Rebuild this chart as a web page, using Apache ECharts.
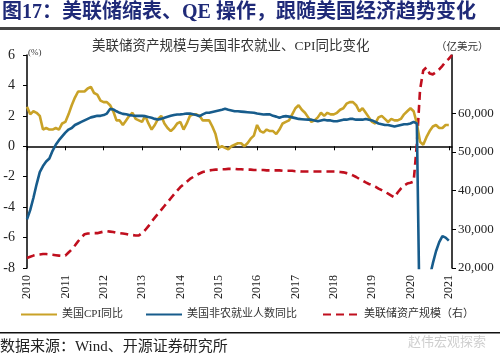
<!DOCTYPE html>
<html>
<head>
<meta charset="utf-8">
<script src="https://cdn.jsdelivr.net/npm/echarts@6/dist/echarts.min.js"></script>
<style>html,body{margin:0;padding:0;background:#fff}#c{width:500px;height:359px}</style>
</head>
<body>
<div id="c"></div>
<script>
// months 2010-01 .. 2021-02
var months = [];
for (var y = 2010; y <= 2021; y++) {
  for (var m = 1; m <= 12; m++) {
    if (y === 2021 && m > 2) break;
    months.push(y + '-' + (m < 10 ? '0' + m : m));
  }
}
var yearLabels = ['2010','2011','2012','2013','2014','2015','2016','2017','2018','2019','2020','2021'];
var leftTicks = [-8, -6, -4, -2, 0, 2, 4, 6];
var rightTicks = [20000, 30000, 40000, 50000, 60000, 70000];

// 美国CPI同比 (%)
var cpi = [
  2.6, 2.1, 2.3, 2.2, 2.0, 1.1, 1.2, 1.1, 1.1, 1.2, 1.1, 1.5,
  1.6, 2.1, 2.7, 3.2, 3.6, 3.6, 3.6, 3.8, 3.9, 3.5, 3.4, 3.0,
  2.9, 2.9, 2.7, 2.3, 1.7, 1.7, 1.4, 1.7, 2.0, 2.2, 1.8, 1.7,
  1.6, 2.0, 1.5, 1.1, 1.4, 1.8, 2.0, 1.5, 1.2, 1.0, 1.2, 1.5,
  1.6, 1.1, 1.5, 2.0, 2.1, 2.1, 2.0, 1.7, 1.7, 1.7, 1.3, 0.8,
  -0.1, 0.0, -0.1, -0.2, 0.0, 0.1, 0.2, 0.2, 0.0, 0.2, 0.5, 0.7,
  1.4, 1.0, 0.9, 1.1, 1.0, 1.0, 0.8, 1.1, 1.5, 1.6, 1.7, 2.1,
  2.5, 2.7, 2.4, 2.2, 1.9, 1.6, 1.7, 1.9, 2.2, 2.0, 2.2, 2.1,
  2.1, 2.2, 2.4, 2.5, 2.8, 2.9, 2.9, 2.7, 2.3, 2.5, 2.2, 1.9,
  1.6, 1.5, 1.9, 2.0, 1.8, 1.6, 1.8, 1.7, 1.7, 1.8, 2.1, 2.3,
  2.5, 2.3, 1.5, 0.3, 0.1, 0.6, 1.0, 1.3, 1.4, 1.2, 1.2, 1.4,
  1.4, null
];

// 美国非农就业人数同比 (%)
var payroll = [
  -4.8, -4.2, -3.4, -2.5, -1.7, -1.3, -1.0, -0.8, -0.3, 0.1, 0.4, 0.65,
  0.9, 1.1, 1.2, 1.4, 1.5, 1.6, 1.7, 1.8, 1.9, 1.95, 2.0, 2.0,
  2.05, 2.15, 2.46, 2.42, 2.3, 2.2, 2.13, 2.1, 2.05, 2.02, 2.0, 2.0,
  2.0, 1.98, 1.92, 1.87, 1.8, 1.76, 1.8, 1.88, 1.94, 2.0, 2.05, 2.09,
  2.1, 2.12, 2.15, 2.15, 2.1, 2.05, 1.98, 2.1, 2.2, 2.2, 2.25, 2.3,
  2.35, 2.4, 2.46, 2.4, 2.35, 2.3, 2.3, 2.28, 2.26, 2.24, 2.22, 2.2,
  2.15, 2.12, 2.09, 2.1, 2.1, 2.0, 1.95, 1.87, 1.95, 1.98, 1.95, 1.9,
  1.85, 1.8, 1.78, 1.76, 1.75, 1.75, 1.7, 1.65, 1.7, 1.75, 1.7, 1.7,
  1.65, 1.65, 1.7, 1.75, 1.75, 1.8, 1.8, 1.75, 1.75, 1.75, 1.8, 1.75,
  1.7, 1.6, 1.5, 1.45, 1.4, 1.4, 1.35, 1.3, 1.35, 1.4, 1.45, 1.45,
  1.5, 1.6, 1.5, -13.2, -11.5, -9.6, -8.6, -7.7, -6.9, -6.3, -5.9, -6.0,
  -6.2, null
];

// 美联储资产规模 (亿美元)
var fedAssets = [
  22600, 22900, 23200, 23400, 23500, 23600, 23600, 23500, 23400, 23300, 23200, 23100,
  23200, 24000, 24800, 25800, 26900, 27900, 28700, 28900, 28900, 29000, 29000, 29200,
  29400, 29500, 29400, 29300, 29100, 29000, 28900, 28800, 28600, 28500, 28400, 28400,
  29000, 29800, 30800, 32000, 33000, 34000, 35000, 36000, 37000, 38000, 39000, 40000,
  40900, 41600, 42300, 43000, 43500, 44000, 44400, 44800, 45000, 45200, 45300, 45400,
  45400, 45500, 45500, 45600, 45600, 45600, 45500, 45500, 45400, 45400, 45400, 45300,
  45300, 45300, 45300, 45200, 45200, 45200, 45200, 45200, 45100, 45100, 45100, 45100,
  45000, 45000, 44900, 44900, 44900, 44900, 44900, 44900, 44900, 44900, 44900, 44900,
  44900, 44900, 44800, 44700, 44500, 44300, 43900, 43500, 43000, 42600, 42100, 41700,
  41400, 41000, 40500, 40100, 39700, 39200, 38700, 38200, 39500, 40500, 41300, 41800,
  42000, 42300, 52000, 66000, 71000, 71800, 70200, 70000, 70600, 71300, 72200, 73300,
  74000, 75000
];

var serif = "'Liberation Serif', 'Noto Sans CJK SC', serif";
var chart = echarts.init(document.getElementById('c'), null, {renderer: 'canvas'});
function isYear(idx) { return idx % 12 === 0; }
var legendCommon = {top: 309, padding: 0, itemWidth: 36, itemHeight: 12,
  itemStyle: {opacity: 0}, textStyle: {fontSize: 11, color: '#333', fontFamily: serif}};

chart.setOption({
  animation: false,
  backgroundColor: '#fff',
  textStyle: {fontFamily: serif},
  graphic: [
    {type: 'text', left: 2, top: 3, style: {text: '图17：美联储缩表、QE 操作，跟随美国经济趋势变化', font: "bold 20px 'Liberation Serif', 'Noto Sans CJK SC', serif", fill: '#1F2A78'}},
    {type: 'rect', shape: {x: 0, y: 27, width: 500, height: 3}, style: {fill: '#444'}},
    {type: 'text', left: 92, top: 40, style: {text: '美联储资产规模与美国非农就业、CPI同比变化', font: "13.5px 'Liberation Serif', 'Noto Sans CJK SC', serif", fill: '#333'}},
    {type: 'text', left: 28, top: 48, style: {text: '(%)', font: "9px 'Liberation Serif', serif", fill: '#333'}},
    {type: 'text', left: 436, top: 41, style: {text: '（亿美元）', font: "10.5px 'Noto Sans CJK SC', serif", fill: '#333'}},
    {type: 'rect', shape: {x: 0, y: 332, width: 500, height: 1.5}, style: {fill: '#111'}},
    {type: 'text', left: 0, top: 340, style: {text: '数据来源：Wind、开源证券研究所', font: "15px 'Liberation Serif', 'Noto Sans CJK SC', serif", fill: '#222'}},
    {type: 'text', left: 408, top: 335, style: {text: '赵伟宏观探索', font: "13px 'Noto Sans CJK SC', sans-serif", fill: '#cfcfcf'}}
  ],
  legend: [
    Object.assign({data: ['美国CPI同比'], left: 20}, legendCommon),
    Object.assign({data: ['美国非农就业人数同比'], left: 145}, legendCommon),
    Object.assign({data: ['美联储资产规模（右）'], left: 322}, legendCommon)
  ],
  grid: {left: 27, right: 48, top: 55, bottom: 91, containLabel: false},
  xAxis: [
    {
      type: 'category', data: months, boundaryGap: false, position: 'bottom',
      axisLine: {show: false, onZero: false}, axisTick: {show: false},
      axisLabel: {interval: function (i) { return isYear(i); }, formatter: function (v) { return v.slice(0, 4); }, rotate: 90, fontSize: 12, color: '#222', margin: 7, fontFamily: serif},
      splitLine: {show: false}
    },
    {
      type: 'category', data: months, boundaryGap: false, position: 'bottom',
      axisLine: {show: true, onZero: true, onZeroAxisIndex: 0, lineStyle: {color: '#000', width: 1.5}},
      axisTick: {show: true, interval: function (i) { return isYear(i); }, length: 4, lineStyle: {color: '#000', width: 1}},
      axisLabel: {show: false}, splitLine: {show: false}
    }
  ],
  yAxis: [
    {
      type: 'value', position: 'left', min: -8, max: 6, interval: 2,
      axisLine: {show: true, lineStyle: {color: '#000', width: 1.5}},
      axisTick: {show: true, length: 4, lineStyle: {color: '#000'}},
      axisLabel: {fontSize: 14, color: '#222', margin: 12, fontFamily: serif},
      splitLine: {show: false}
    },
    {
      type: 'value', position: 'right', min: 20000, max: 75000, interval: 10000,
      axisLine: {show: true, lineStyle: {color: '#000', width: 1.5}},
      axisTick: {show: true, length: 4, lineStyle: {color: '#000'}, customValues: rightTicks},
      axisLabel: {fontSize: 13, color: '#222', margin: 6, fontFamily: serif, showMaxLabel: false, customValues: rightTicks,
        formatter: function (v) { return v.toString().replace(/\B(?=(\d{3})+(?!\d))/g, ','); }},
      splitLine: {show: false}
    }
  ],
  series: [
    {name: '美国CPI同比', type: 'line', data: cpi, xAxisIndex: 0, yAxisIndex: 0, symbol: 'none', z: 3,
      lineStyle: {color: '#C9A227', width: 2.6}, itemStyle: {color: '#C9A227'}},
    {name: '美国非农就业人数同比', type: 'line', data: payroll, xAxisIndex: 0, yAxisIndex: 0, symbol: 'none', z: 4, clip: true,
      lineStyle: {color: '#175C8C', width: 2.6}, itemStyle: {color: '#175C8C'}},
    {name: '美联储资产规模（右）', type: 'line', data: fedAssets, xAxisIndex: 0, yAxisIndex: 1, symbol: 'none', z: 2,
      lineStyle: {color: '#C00F1E', width: 2.6, type: [8, 5]}, itemStyle: {color: '#C00F1E'}}
  ]
});
</script>
</body>
</html>
